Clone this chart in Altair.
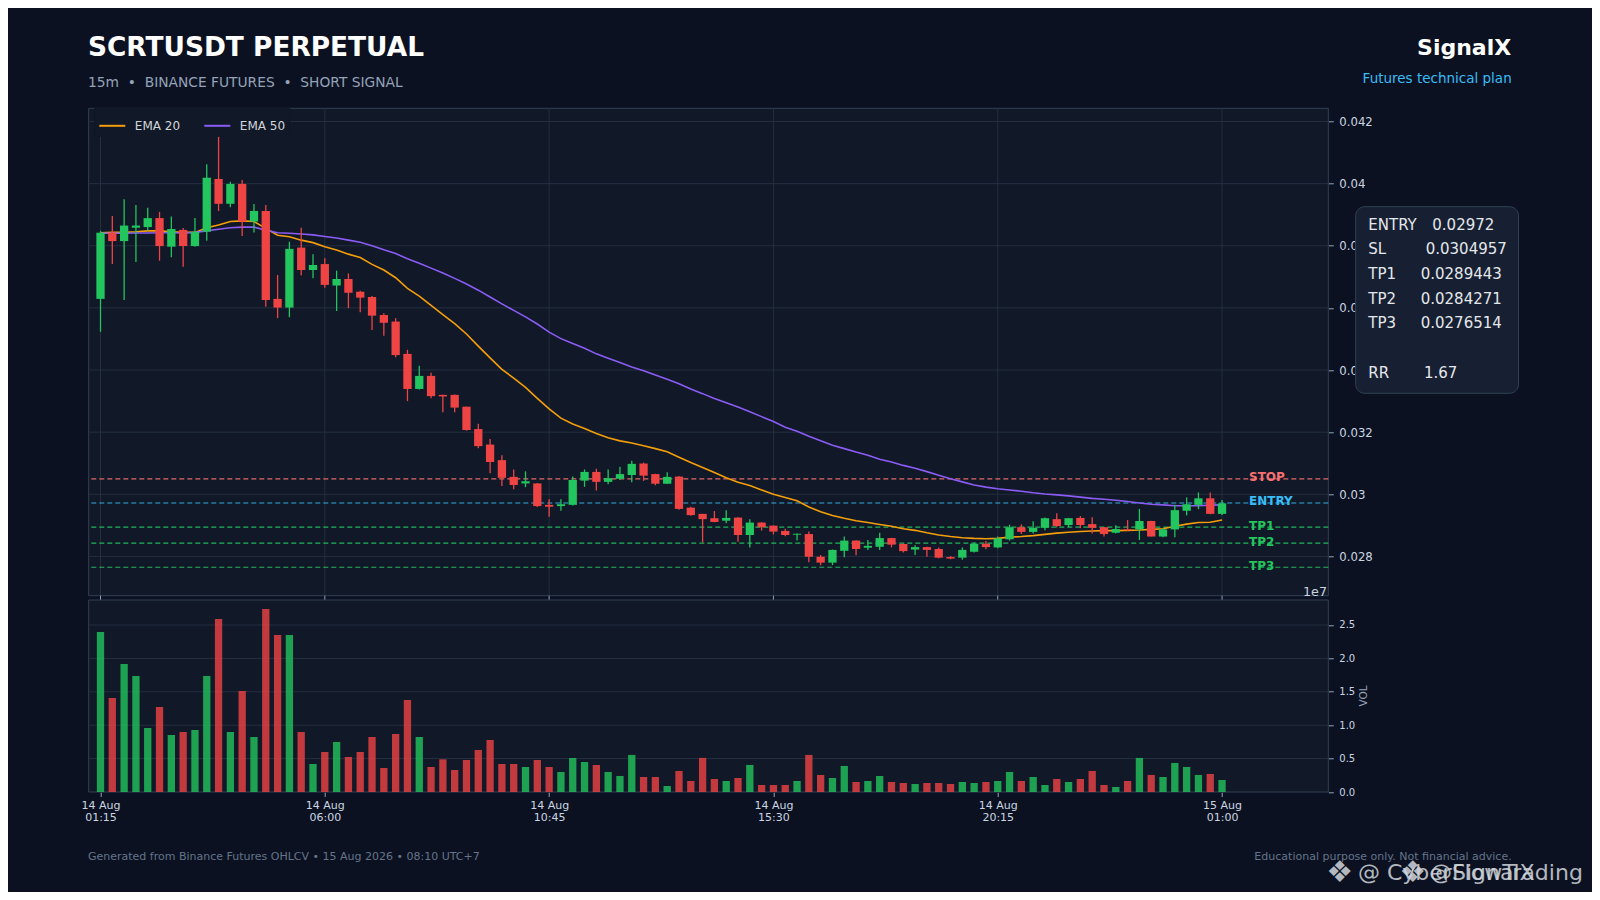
import altair as alt
import pandas as pd

# ---------------- data ----------------
opens = [0.03629, 0.03842, 0.03815, 0.03858, 0.03860, 0.03889, 0.03797, 0.03851, 0.03799, 0.03845,
         0.04015, 0.03935, 0.03999, 0.03878, 0.03912, 0.03629, 0.03601, 0.03794, 0.03722, 0.03741,
         0.03672, 0.03693, 0.03652, 0.03635, 0.03577, 0.03556, 0.03452, 0.03339, 0.03381, 0.03320,
         0.03320, 0.03282, 0.03210, 0.03160, 0.03110, 0.03056, 0.03035, 0.03035, 0.02966, 0.02962,
         0.02966, 0.03044, 0.03072, 0.03040, 0.03050, 0.03062, 0.03099, 0.03065, 0.03034, 0.03057,
         0.02957, 0.02937, 0.02923, 0.02915, 0.02925, 0.02869, 0.02909, 0.02899, 0.02882, 0.02870,
         0.02872, 0.02799, 0.02780, 0.02818, 0.02851, 0.02828, 0.02831, 0.02859, 0.02840, 0.02822,
         0.02830, 0.02824, 0.02798, 0.02796, 0.02815, 0.02841, 0.02829, 0.02855, 0.02894, 0.02879,
         0.02892, 0.02920, 0.02901, 0.02924, 0.02904, 0.02894, 0.02876, 0.02887, 0.02887, 0.02914,
         0.02864, 0.02887, 0.02947, 0.02966, 0.02987, 0.02937]
highs = [0.03848, 0.03896, 0.03950, 0.03931, 0.03922, 0.03909, 0.03894, 0.03857, 0.03889, 0.04062,
         0.04153, 0.04006, 0.04012, 0.03934, 0.03931, 0.03706, 0.03813, 0.03858, 0.03773, 0.03760,
         0.03720, 0.03711, 0.03655, 0.03638, 0.03583, 0.03567, 0.03465, 0.03414, 0.03391, 0.03320,
         0.03321, 0.03282, 0.03227, 0.03178, 0.03126, 0.03080, 0.03074, 0.03036, 0.02984, 0.02984,
         0.03057, 0.03080, 0.03082, 0.03080, 0.03089, 0.03108, 0.03102, 0.03066, 0.03071, 0.03059,
         0.02960, 0.02937, 0.02946, 0.02949, 0.02926, 0.02920, 0.02910, 0.02900, 0.02889, 0.02874,
         0.02880, 0.02805, 0.02822, 0.02864, 0.02852, 0.02853, 0.02876, 0.02860, 0.02842, 0.02836,
         0.02831, 0.02829, 0.02801, 0.02829, 0.02845, 0.02850, 0.02864, 0.02902, 0.02903, 0.02913,
         0.02925, 0.02939, 0.02924, 0.02930, 0.02926, 0.02895, 0.02900, 0.02917, 0.02953, 0.02915,
         0.02891, 0.02966, 0.02990, 0.03006, 0.03006, 0.02982]
lows = [0.03523, 0.03741, 0.03625, 0.03748, 0.03848, 0.03752, 0.03763, 0.03732, 0.03797, 0.03816,
        0.03912, 0.03924, 0.03831, 0.03843, 0.03604, 0.03567, 0.03570, 0.03704, 0.03695, 0.03665,
        0.03590, 0.03599, 0.03586, 0.03529, 0.03510, 0.03441, 0.03300, 0.03337, 0.03309, 0.03264,
        0.03264, 0.03205, 0.03148, 0.03068, 0.03027, 0.03016, 0.03023, 0.02959, 0.02928, 0.02947,
        0.02964, 0.03024, 0.03012, 0.03032, 0.03046, 0.03039, 0.03043, 0.03029, 0.03033, 0.02950,
        0.02931, 0.02845, 0.02910, 0.02907, 0.02847, 0.02829, 0.02883, 0.02871, 0.02865, 0.02851,
        0.02781, 0.02772, 0.02772, 0.02797, 0.02804, 0.02821, 0.02821, 0.02829, 0.02813, 0.02805,
        0.02799, 0.02794, 0.02791, 0.02789, 0.02813, 0.02823, 0.02826, 0.02851, 0.02872, 0.02874,
        0.02884, 0.02894, 0.02894, 0.02891, 0.02874, 0.02864, 0.02874, 0.02883, 0.02853, 0.02864,
        0.02862, 0.02862, 0.02932, 0.02952, 0.02936, 0.02933]
closes = [0.03842, 0.03815, 0.03865, 0.03865, 0.03889, 0.03799, 0.03854, 0.03799, 0.03845, 0.04019,
          0.03935, 0.03999, 0.03878, 0.03912, 0.03625, 0.03601, 0.03790, 0.03722, 0.03738, 0.03674,
          0.03693, 0.03649, 0.03633, 0.03575, 0.03552, 0.03448, 0.03339, 0.03381, 0.03316, 0.03315,
          0.03279, 0.03207, 0.03155, 0.03104, 0.03053, 0.03030, 0.03042, 0.02962, 0.02960, 0.02968,
          0.03046, 0.03072, 0.03040, 0.03052, 0.03065, 0.03098, 0.03060, 0.03034, 0.03056, 0.02953,
          0.02933, 0.02920, 0.02911, 0.02924, 0.02869, 0.02909, 0.02894, 0.02880, 0.02869, 0.02873,
          0.02799, 0.02780, 0.02821, 0.02851, 0.02824, 0.02834, 0.02859, 0.02838, 0.02817, 0.02830,
          0.02821, 0.02796, 0.02793, 0.02821, 0.02841, 0.02830, 0.02858, 0.02894, 0.02879, 0.02892,
          0.02923, 0.02898, 0.02923, 0.02901, 0.02892, 0.02872, 0.02888, 0.02884, 0.02914, 0.02864,
          0.02887, 0.02949, 0.02968, 0.02987, 0.02937, 0.02971]
volume_1e7 = [2.395, 1.407, 1.916, 1.737, 0.958, 1.272, 0.853, 0.898, 0.928, 1.737,
              2.590, 0.898, 1.512, 0.823, 2.740, 2.350, 2.350, 0.898, 0.419, 0.599,
              0.749, 0.524, 0.599, 0.823, 0.359, 0.868, 1.377, 0.823, 0.374, 0.489,
              0.329, 0.479, 0.629, 0.778, 0.419, 0.419, 0.374, 0.479, 0.374, 0.299,
              0.509, 0.449, 0.404, 0.299, 0.240, 0.555, 0.225, 0.225, 0.090, 0.315,
              0.165, 0.510, 0.195, 0.165, 0.210, 0.405, 0.105, 0.105, 0.105, 0.165,
              0.555, 0.255, 0.210, 0.390, 0.150, 0.165, 0.240, 0.150, 0.135, 0.120,
              0.135, 0.135, 0.120, 0.150, 0.135, 0.150, 0.165, 0.300, 0.165, 0.225,
              0.105, 0.195, 0.150, 0.195, 0.315, 0.105, 0.075, 0.165, 0.510, 0.255,
              0.225, 0.435, 0.375, 0.255, 0.270, 0.180]
ema20 = [0.03842, 0.03843, 0.03843, 0.03845, 0.03848, 0.03848, 0.03845, 0.03843, 0.03843, 0.03858,
         0.03867, 0.03878, 0.03880, 0.03878, 0.03856, 0.03834, 0.03829, 0.03818, 0.03810, 0.03797,
         0.03786, 0.03773, 0.03762, 0.03740, 0.03722, 0.03697, 0.03663, 0.03638, 0.03608, 0.03578,
         0.03549, 0.03516, 0.03477, 0.03439, 0.03402, 0.03374, 0.03344, 0.03309, 0.03275, 0.03245,
         0.03226, 0.03212, 0.03196, 0.03182, 0.03172, 0.03165, 0.03156, 0.03147, 0.03137, 0.03119,
         0.03102, 0.03086, 0.03070, 0.03053, 0.03039, 0.03028, 0.03014, 0.03000, 0.02990, 0.02979,
         0.02959, 0.02944, 0.02932, 0.02923, 0.02915, 0.02909, 0.02903, 0.02897, 0.02889, 0.02884,
         0.02876, 0.02869, 0.02864, 0.02860, 0.02858, 0.02857, 0.02858, 0.02862, 0.02864, 0.02867,
         0.02871, 0.02875, 0.02878, 0.02880, 0.02882, 0.02883, 0.02883, 0.02884, 0.02885, 0.02887,
         0.02889, 0.02897, 0.02904, 0.02909, 0.02910, 0.02917]
ema50 = [0.03840, 0.03840, 0.03840, 0.03841, 0.03841, 0.03842, 0.03842, 0.03841, 0.03843, 0.03848,
         0.03853, 0.03858, 0.03860, 0.03860, 0.03850, 0.03842, 0.03840, 0.03838, 0.03835, 0.03830,
         0.03825, 0.03818, 0.03811, 0.03800, 0.03787, 0.03775, 0.03758, 0.03744, 0.03728, 0.03712,
         0.03695, 0.03677, 0.03657, 0.03635, 0.03613, 0.03592, 0.03571, 0.03548, 0.03522, 0.03501,
         0.03485, 0.03470, 0.03452, 0.03438, 0.03424, 0.03410, 0.03398, 0.03384, 0.03370, 0.03356,
         0.03339, 0.03324, 0.03308, 0.03295, 0.03281, 0.03266, 0.03250, 0.03234, 0.03216, 0.03203,
         0.03187, 0.03172, 0.03158, 0.03147, 0.03136, 0.03126, 0.03113, 0.03104, 0.03093, 0.03084,
         0.03073, 0.03061, 0.03050, 0.03040, 0.03030, 0.03023, 0.03018, 0.03014, 0.03010, 0.03005,
         0.03001, 0.02998, 0.02995, 0.02991, 0.02987, 0.02984, 0.02981, 0.02977, 0.02972, 0.02968,
         0.02966, 0.02963, 0.02963, 0.02963, 0.02965, 0.02966]

tick_index = [0, 19, 38, 57, 76, 95]
tick_labels = ["14 Aug\n01:15", "14 Aug\n06:00", "14 Aug\n10:45",
               "14 Aug\n15:30", "14 Aug\n20:15", "15 Aug\n01:00"]
price_ticks = [0.028, 0.030, 0.032, 0.034, 0.036, 0.038, 0.040, 0.042]
volume_ticks = [0, 5e6, 1e7, 1.5e7, 2e7, 2.5e7]

level_names = ["STOP", "ENTRY", "TP1", "TP2", "TP3"]
level_values = [0.0304957, 0.02972, 0.0289443, 0.0284271, 0.0276514]
box_labels = ["ENTRY", "SL", "TP1", "TP2", "TP3", "RR"]
box_values = ["0.02972", "0.0304957", "0.0289443", "0.0284271", "0.0276514", "1.67"]

title_text = "SCRTUSDT PERPETUAL"
subtitle_text = "15m\u00a0\u00a0•\u00a0\u00a0BINANCE FUTURES\u00a0\u00a0•\u00a0\u00a0SHORT SIGNAL"
brand_text = "SignalX"
brand_sub = "Futures technical plan"
footer_left = "Generated from Binance Futures OHLCV • 15 Aug 2026 • 08:10 UTC+7"
footer_right = "Educational purpose only. Not financial advice."

# ---------------- styles / layout ----------------
FONT = "DejaVu Sans"
BG = "#0b1120"
PANEL = "#111827"
GRID = "#242f40"
BORDER = "#334155"
GREEN = "#22c55e"
RED = "#ef4444"
ORANGE = "#f59e0b"
PURPLE = "#8b5cf6"
LEVEL_COLORS = ["#f87171", "#38bdf8", "#22c55e", "#22c55e", "#22c55e"]
LABEL = "#cbd5e1"
TICK = "#94a3b8"

W, H = 1239.6, 683.7
X_DOM = [-1, 104]
P_DOM = [0.026736, 0.042424]
V_DOM = [0, 2.874e7]

x_scale = alt.Scale(domain=X_DOM, nice=False, zero=False, padding=0)
p_scale = alt.Scale(domain=P_DOM, range=[487.4, 0], nice=False, zero=False, padding=0)
v_scale = alt.Scale(domain=V_DOM, range=[683.7, 491.7], nice=False, zero=False, padding=0)

parts = []
for t, lab in zip(tick_index, tick_labels):
    a, b = lab.split("\n")
    parts.append(f"datum.value == {t} ? ['{a}', '{b}']")
x_label_expr = " : ".join(parts) + " : ''"

x_axis = alt.Axis(values=tick_index, labelExpr=x_label_expr, title=None, grid=False,
                  domain=False, tickSize=4.5, tickColor=TICK, labelColor=LABEL,
                  labelFontSize=11, labelFont=FONT, labelPadding=3, labelLineHeight=11.5,
                  labelFlush=False, labelOverlap=False)
p_axis = alt.Axis(orient="right", values=price_ticks, labelExpr="format(datum.value, '~g')",
                  title=None, grid=False, domain=False, tickSize=5, tickColor=TICK,
                  labelColor=LABEL, labelFontSize=11.7, labelFont=FONT, labelPadding=5.5,
                  labelFlush=False, labelOverlap=False)
v_axis = alt.Axis(orient="right", values=volume_ticks,
                  labelExpr="format(datum.value / 10000000, '.1f')",
                  title=None, grid=False, domain=False, tickSize=5, tickColor=TICK,
                  labelColor=LABEL, labelFontSize=10, labelFont=FONT, labelPadding=5.5,
                  labelFlush=False, labelOverlap=False)


def PX(f):
    return alt.X(f, type="quantitative", scale=x_scale, axis=x_axis)


def PY(f):
    return alt.Y(f, type="quantitative", scale=p_scale, axis=p_axis)


def VY(f):
    return alt.Y(f, type="quantitative", scale=v_scale, axis=v_axis)


n = len(closes)
df = pd.DataFrame({"i": list(range(n)), "o": opens, "h": highs, "l": lows, "c": closes,
                   "v": [v * 1e7 for v in volume_1e7]})
up = alt.condition("datum.c >= datum.o", alt.value(GREEN), alt.value(RED))

ema_df = pd.concat([
    pd.DataFrame({"i": list(range(n)), "val": ema20, "series": "EMA 20"}),
    pd.DataFrame({"i": list(range(n)), "val": ema50, "series": "EMA 50"}),
])
lv_df = pd.DataFrame({"name": level_names, "val": level_values})
xt_df = pd.DataFrame({"t": tick_index, "lo": [P_DOM[0]] * len(tick_index),
                      "hi": [P_DOM[1]] * len(tick_index)})

# ---------------- price panel ----------------
p_panel = alt.Chart(pd.DataFrame({"x0": [X_DOM[0]], "x1": [X_DOM[1]],
                                  "y0": [P_DOM[0]], "y1": [P_DOM[1]]})).mark_rect(
    fill=PANEL, stroke=BORDER, strokeWidth=1).encode(x=PX("x0"), x2="x1", y=PY("y0"), y2="y1")
p_grid = alt.Chart(pd.DataFrame({"p": price_ticks})).mark_rule(
    color=GRID, strokeWidth=1).encode(y=PY("p"))
x_grid = alt.Chart(xt_df).mark_rule(color=GRID, strokeWidth=1).encode(
    x=PX("t"), y=PY("lo"), y2="hi")
# small x ticks under the price panel (shared-x panel ticks)
x_ticks_top = alt.Chart(xt_df).mark_rule(color=TICK, strokeWidth=1).encode(
    x=PX("t"), y=PY("lo"), y2=alt.value(491.9))
lv_text = alt.Chart(lv_df).mark_text(align="left", baseline="middle", dy=-1.5,
                                     fontWeight="bold", fontSize=12, font=FONT).encode(
    x=alt.value(1160.3), y=PY("val"), text="name:N",
    fill=alt.Fill("name:N", scale=alt.Scale(domain=level_names, range=LEVEL_COLORS), legend=None))
lv_rules = alt.Chart(lv_df).mark_rule(strokeDash=[5, 3], strokeWidth=1.2, opacity=0.9).encode(
    y=PY("val"),
    stroke=alt.Stroke("name:N", scale=alt.Scale(domain=level_names, range=LEVEL_COLORS), legend=None))
ema_lines = alt.Chart(ema_df).mark_line(strokeWidth=1.6).encode(
    x=PX("i"), y=PY("val"),
    color=alt.Color("series:N", scale=alt.Scale(domain=["EMA 20", "EMA 50"], range=[ORANGE, PURPLE]),
                    legend=alt.Legend(orient="none", legendX=5.6, legendY=-0.5, direction="horizontal",
                                      title=None, symbolType="stroke", symbolSize=676,
                                      symbolStrokeWidth=2, labelFontSize=12, labelFont=FONT,
                                      labelColor="#d1d5db", labelOffset=8.5, columnPadding=20,
                                      padding=4, fillColor=PANEL, strokeColor=PANEL)))
wicks = alt.Chart(df).mark_rule(strokeWidth=1.3).encode(x=PX("i"), y=PY("l"), y2="h", color=up)
bodies = alt.Chart(df).mark_bar(size=8.3).encode(x=PX("i"), y=PY("o"), y2="c", color=up)

price = alt.layer(p_panel, p_grid, x_grid, x_ticks_top, lv_text, lv_rules, ema_lines, wicks, bodies)

# ---------------- volume panel ----------------
v_panel = alt.Chart(pd.DataFrame({"x0": [X_DOM[0]], "x1": [X_DOM[1]],
                                  "y0": [V_DOM[0]], "y1": [V_DOM[1]]})).mark_rect(
    fill=PANEL, stroke=BORDER, strokeWidth=1).encode(x=PX("x0"), x2="x1", y=VY("y0"), y2="y1")
v_grid = alt.Chart(pd.DataFrame({"vv": volume_ticks[1:]})).mark_rule(
    color=GRID, strokeWidth=1).encode(y=VY("vv"))
v_bars = alt.Chart(df).mark_bar(size=7.3, opacity=0.8).encode(x=PX("i"), y=VY("v"), color=up)

vol = alt.layer(v_panel, v_grid, v_bars)


# ---------------- texts ----------------
def txt(s, x, y, size, color, weight="normal", align="left", baseline="alphabetic", angle=0,
        opacity=1.0):
    return alt.Chart(pd.DataFrame({"s": [s]})).mark_text(
        align=align, baseline=baseline, fontSize=size, font=FONT, fontWeight=weight,
        color=color, angle=angle, opacity=opacity).encode(
        x=alt.value(x), y=alt.value(y), text="s:N")


texts = [
    txt(title_text, -0.7, -52.2, 26.4, "#ffffff", weight="bold"),
    txt(subtitle_text, -0.7, -21.6, 13.8, "#94a3b8"),
    txt(brand_text, 1422.5, -53.3, 22, "#ffffff", weight="bold", align="right"),
    txt(brand_sub, 1423, -25, 13.5, "#38bdf8", align="right"),
    txt(footer_left, -0.7, 751.7, 11, "#64748b"),
    txt(footer_right, 1423, 751.7, 11, "#64748b", align="right"),
    txt("VOL", 1275.3, 587.7, 10.5, "#94a3b8", align="center", baseline="middle", angle=270),
    txt("1e7", 1238.3, 487.5, 12.7, LABEL, align="right"),
]

box = alt.Chart(pd.DataFrame({"d": [0]})).mark_rect(
    cornerRadius=9, fill="#162032", stroke=BORDER, strokeWidth=1).encode(
    x=alt.value(1267), x2=alt.value(1429.8), y=alt.value(98.4), y2=alt.value(285))

row_y = [121.2, 145.9, 170.6, 195.3, 220.0, 269.4]
val_x = [1343.6, 1337.0, 1332.0, 1332.0, 1332.0, 1335.3]
box_texts = []
for lab, val, yy, xx in zip(box_labels, box_values, row_y, val_x):
    box_texts.append(txt(lab, 1279.6, yy, 15, "#e5e7eb"))
    box_texts.append(txt(val, xx, yy, 15, "#e5e7eb"))

watermark = [
    txt("\u2756", 1237.5, 764.5, 30, "#d1d5db", baseline="middle", opacity=0.85),
    txt("@ CyberFlowTrading", 1269.3, 772.0, 22, "#d1d5db", opacity=0.85),
    txt("\u2756", 1310.5, 764.5, 30, "#d1d5db", baseline="middle", opacity=0.85),
    txt("@SignalX", 1341.3, 772.0, 22, "#d1d5db", opacity=0.85),
]

chart = alt.layer(price, vol, *texts, box, *box_texts, *watermark).resolve_scale(
    y="independent").properties(
    width=W, height=H,
    autosize=alt.AutoSizeParams(type="none"),
    padding={"left": 80.7, "top": 100.3, "right": 263.7, "bottom": 100},
    background=BG,
).configure_view(stroke=None)

chart.save("out.html", embed_options={"renderer": "svg", "actions": False})
